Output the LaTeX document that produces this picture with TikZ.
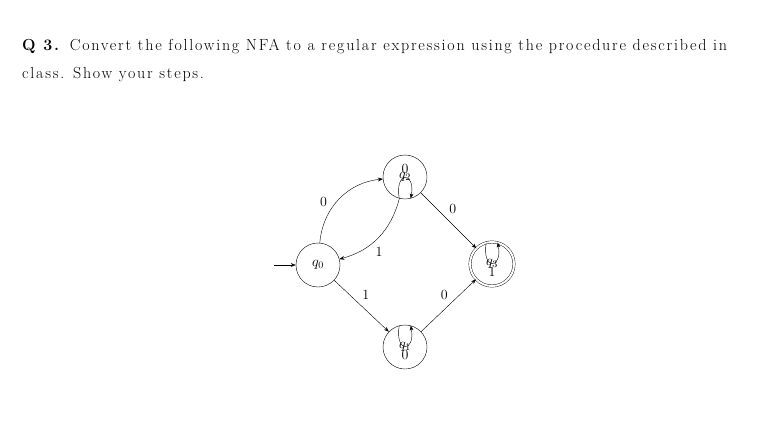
\documentclass[tikz,border=0pt]{standalone}
\usepackage{fontspec}
\newfontfamily\spacedfont[LetterSpace=11]{Latin Modern Roman}
\usetikzlibrary{arrows.meta}
\begin{document}
\begin{tikzpicture}[x=1pt,y=-1pt,
  st/.style={circle,draw,minimum size=44pt,inner sep=0pt,font=\fontsize{14}{16}\selectfont},
  lab/.style={font=\fontsize{14}{16}\selectfont},
  ed/.style={-{Stealth[length=5pt]},thin},
  txt/.style={anchor=base west,inner sep=0pt,font=\spacedfont\fontsize{16}{18}\selectfont}]
\useasboundingbox (0,0) rectangle (778,436);
\node[txt] (t1) at (22,50) {\textbf{Q 3.} Convert the following NFA to a regular expression using the procedure described in};
\node[txt] (t2) at (22,78) {class. Show your steps.};
\node[st] (q0) at (318,265) {$q_0$};
\node[st] (q2) at (405,177) {$q_2$};
\node[st,double,double distance=2pt] (q3) at (492,264) {$q_3$};
\node[st] (q1) at (405,347) {$q_1$};
\coordinate (s) at (274,265);
\draw[ed] (s) -- (q0);
\draw[ed] (q0) to[bend left=40] node[lab,pos=0.35,above left] {0} (q2);
\draw[ed] (q2) to[bend left=30] node[lab,pos=0.6,below right] {1} (q0);
\draw[ed] (q2) -- node[lab,pos=0.45,above right] {0} (q3);
\draw[ed] (q0) -- node[lab,pos=0.45,above right] {1} (q1);
\draw[ed] (q1) -- node[lab,pos=0.55,above left] {0} (q3);
\draw[ed] (q2.-105) .. controls +(-100:28) and +(-80:28) .. node[lab,above] {0} (q2.-75);
\draw[ed] (q3.105) .. controls +(100:28) and +(80:28) .. node[lab,below] {1} (q3.75);
\draw[ed] (q1.105) .. controls +(100:28) and +(80:28) .. node[lab,below] {0} (q1.75);
\end{tikzpicture}
\end{document}
